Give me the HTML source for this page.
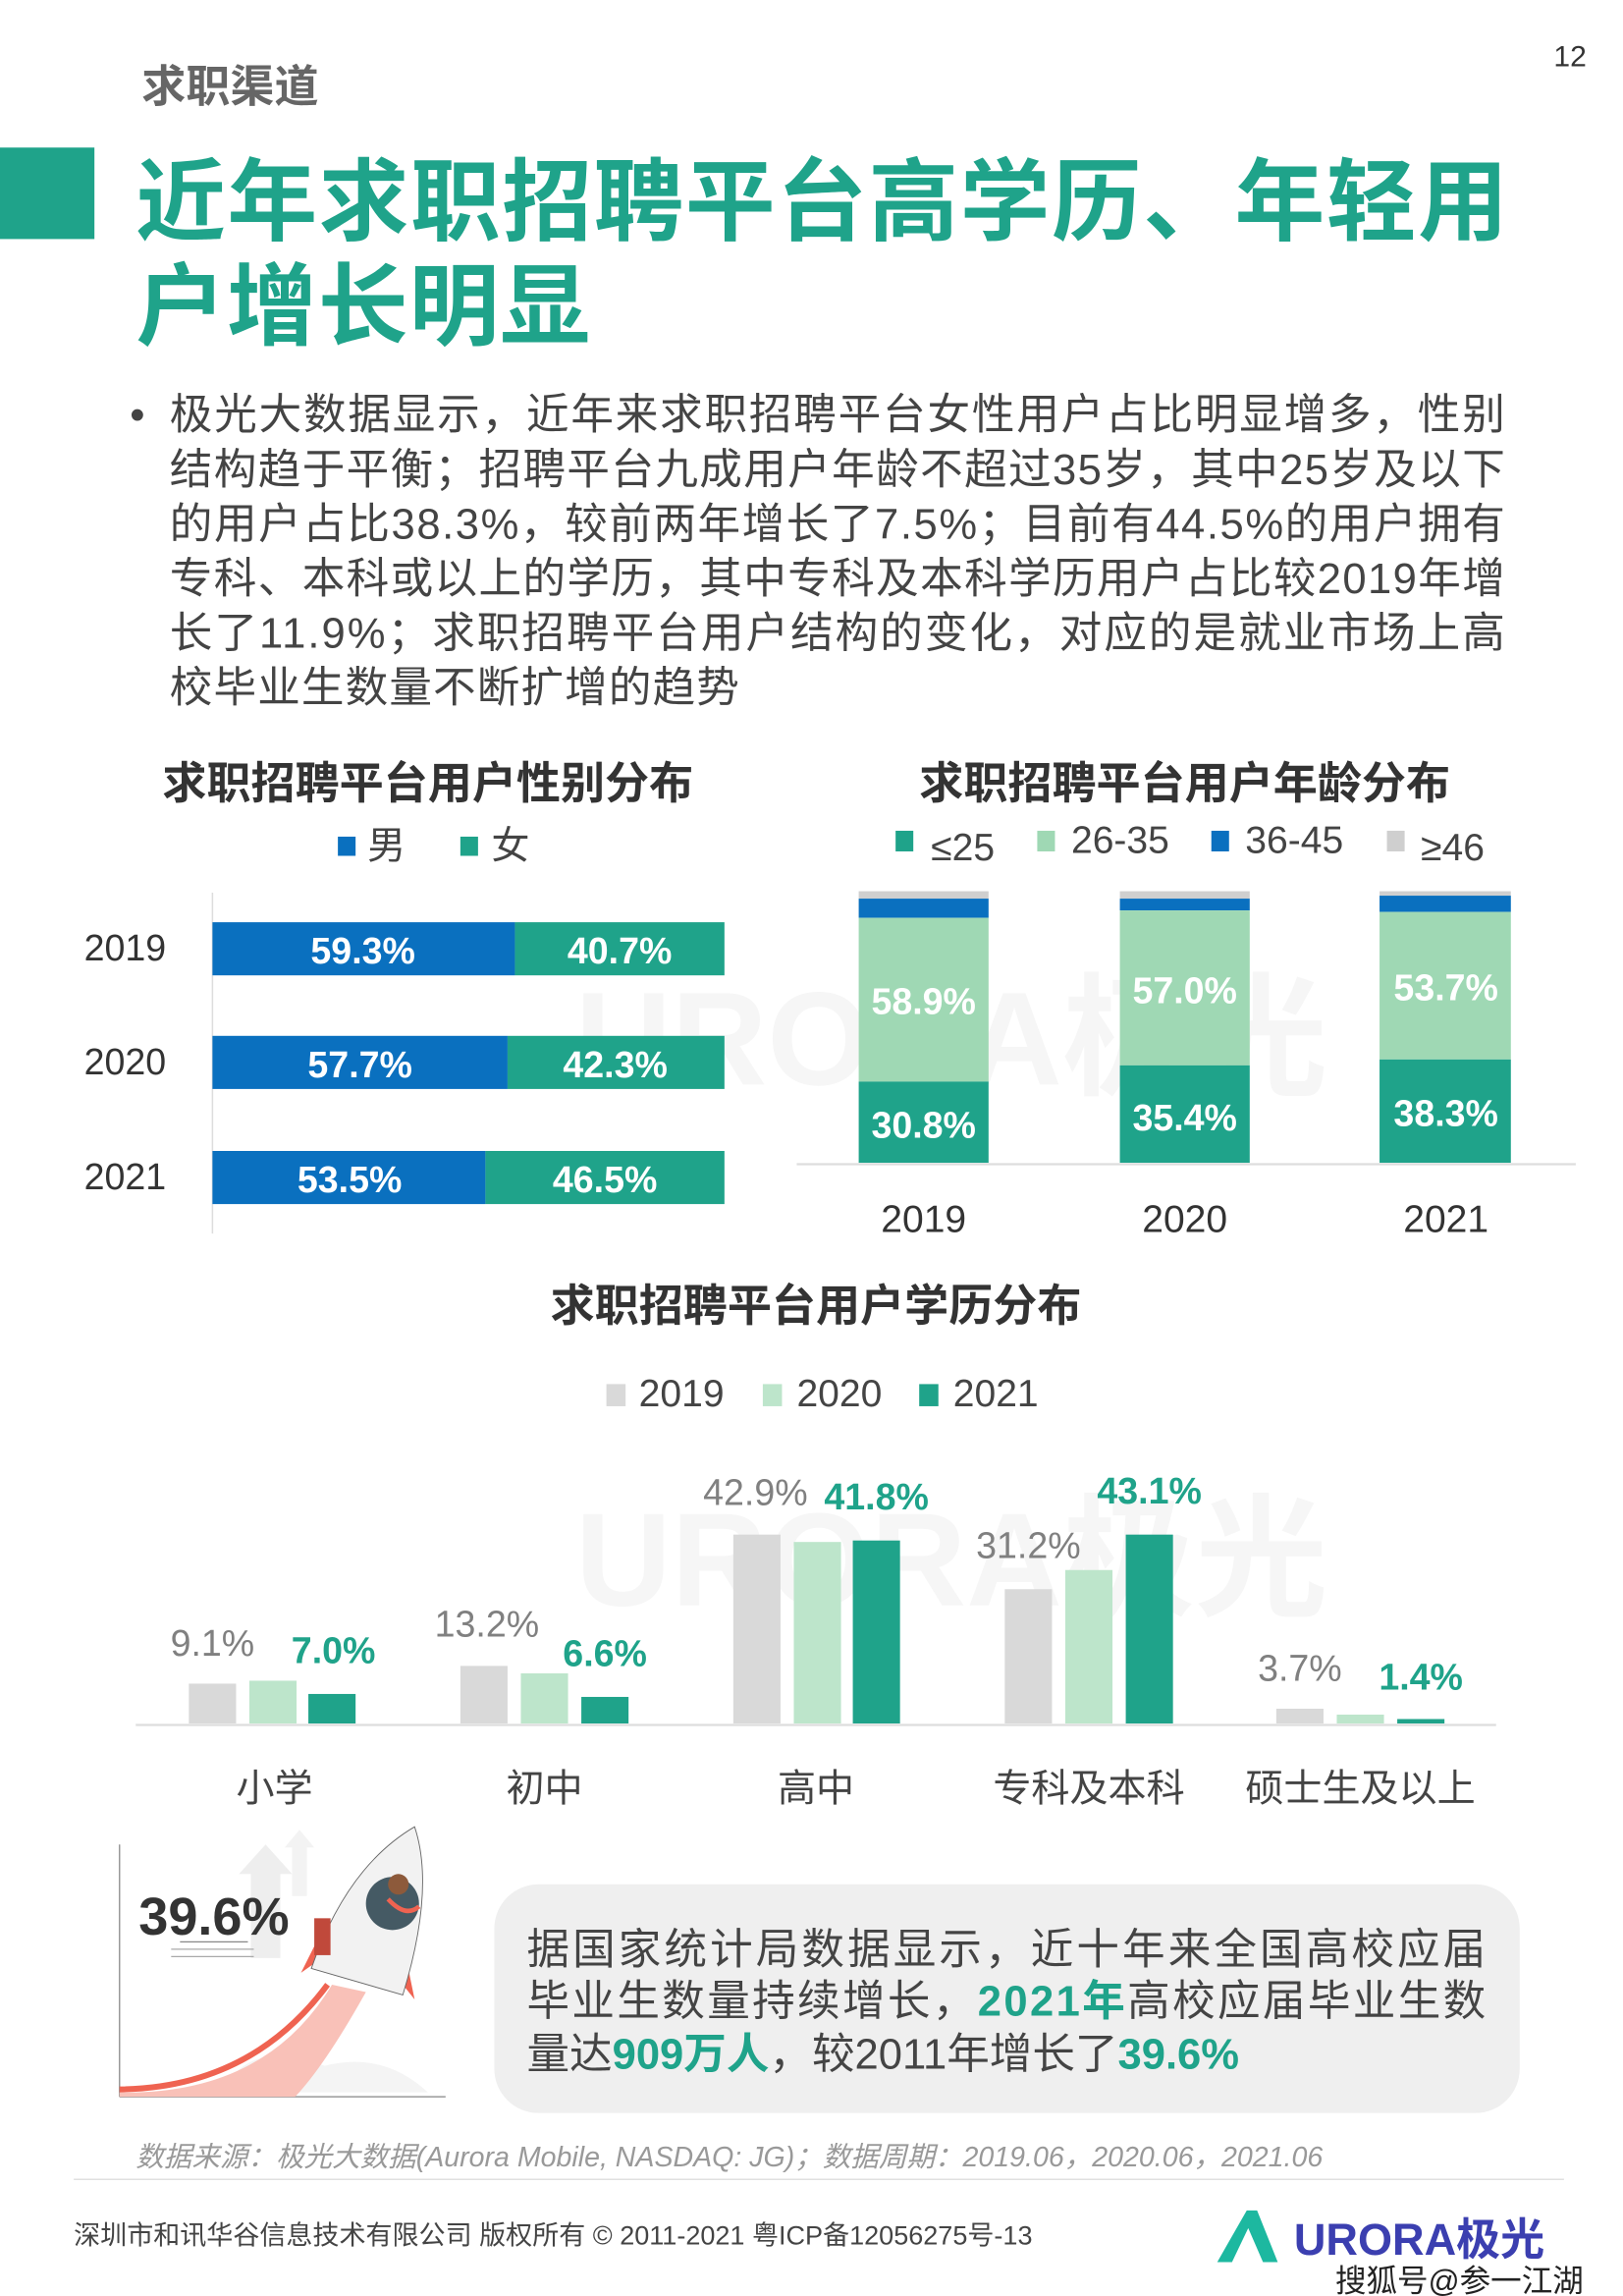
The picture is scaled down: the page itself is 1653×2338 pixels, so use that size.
<!DOCTYPE html>
<html><head><meta charset="utf-8">
<style>
html,body{margin:0;padding:0;background:#fff;}
svg{display:block;}
text{font-family:"Liberation Sans","Noto Sans CJK SC",sans-serif;}
</style></head>
<body>
<svg width="1653" height="2338" viewBox="0 0 1100 1556" preserveAspectRatio="none" xmlns="http://www.w3.org/2000/svg">
<rect width="1100" height="1556" fill="#fff"/>
<text x="1053" y="45" font-size="20" fill="#333">12</text>
<text x="96" y="69" font-size="30" font-weight="bold" fill="#666">求职渠道</text>
<rect x="0" y="100" width="64" height="62" fill="#1fa38a"/>
<text x="92" y="158" font-size="61" font-weight="bold" fill="#1fa38a" textLength="930">近年求职招聘平台高学历、年轻用</text>
<text x="92" y="229" font-size="61" font-weight="bold" fill="#1fa38a" textLength="308">户增长明显</text>
<g font-size="29" fill="#444">
<text x="88" y="291">•</text>
<text x="115" y="291" textLength="905">极光大数据显示，近年来求职招聘平台女性用户占比明显增多，性别</text>
<text x="115" y="328" textLength="905">结构趋于平衡；招聘平台九成用户年龄不超过35岁，其中25岁及以下</text>
<text x="115" y="365" textLength="905">的用户占比38.3%，较前两年增长了7.5%；目前有44.5%的用户拥有</text>
<text x="115" y="402" textLength="905">专科、本科或以上的学历，其中专科及本科学历用户占比较2019年增</text>
<text x="115" y="439" textLength="905">长了11.9%；求职招聘平台用户结构的变化，对应的是就业市场上高</text>
<text x="115" y="476" textLength="386">校毕业生数量不断扩增的趋势</text>
</g>
<!-- watermarks -->
<g fill="#000" opacity="0.03" font-weight="bold" font-size="90">
<text x="390" y="735">URORA极光</text>
<text x="390" y="1088">URORA极光</text>
</g>
<!-- gender chart -->
<text x="290" y="541" font-size="30" font-weight="bold" fill="#333" text-anchor="middle">求职招聘平台用户性别分布</text>
<rect x="229" y="567" width="12" height="13" fill="#0a70bf"/><text x="249" y="582" font-size="26" fill="#444">男</text>
<rect x="312" y="567" width="12" height="13" fill="#1fa38a"/><text x="333" y="582" font-size="26" fill="#444">女</text>
<line x1="144" y1="605" x2="144" y2="836" stroke="#ddd" stroke-width="1"/>
<g font-size="25" fill="#333"><text x="57" y="651">2019</text><text x="57" y="728">2020</text><text x="57" y="806">2021</text></g>
<rect x="144" y="625" width="205" height="36" fill="#0a70bf"/><rect x="349" y="625" width="142" height="36" fill="#1fa38a"/>
<rect x="144" y="702" width="200" height="36" fill="#0a70bf"/><rect x="344" y="702" width="147" height="36" fill="#1fa38a"/>
<rect x="144" y="780" width="185" height="36" fill="#0a70bf"/><rect x="329" y="780" width="162" height="36" fill="#1fa38a"/>
<g font-size="25" font-weight="bold" fill="#fff" text-anchor="middle">
<text x="246" y="653">59.3%</text><text x="420" y="653">40.7%</text>
<text x="244" y="730">57.7%</text><text x="417" y="730">42.3%</text>
<text x="237" y="808">53.5%</text><text x="410" y="808">46.5%</text>
</g>
<!-- age chart -->
<text x="803" y="541" font-size="30" font-weight="bold" fill="#333" text-anchor="middle">求职招聘平台用户年龄分布</text>
<g font-size="26" fill="#444">
<rect x="607" y="563" width="12" height="14" fill="#1fa38a"/><text x="631" y="583">≤25</text>
<rect x="703" y="563" width="12" height="14" fill="#9fd8b4"/><text x="726" y="578">26-35</text>
<rect x="821" y="563" width="12" height="14" fill="#0a70bf"/><text x="844" y="578">36-45</text>
<rect x="940" y="563" width="12" height="14" fill="#cfcfcf"/><text x="963" y="583">≥46</text>
</g>
<line x1="540" y1="789" x2="1068" y2="789" stroke="#ddd" stroke-width="1.5"/>
<rect x="582" y="604" width="88" height="5" fill="#cfcfcf"/><rect x="582" y="609" width="88" height="13" fill="#0a70bf"/><rect x="582" y="622" width="88" height="111" fill="#9fd8b4"/><rect x="582" y="733" width="88" height="55" fill="#1fa38a"/>
<rect x="759" y="604" width="88" height="5" fill="#cfcfcf"/><rect x="759" y="609" width="88" height="8" fill="#0a70bf"/><rect x="759" y="617" width="88" height="105" fill="#9fd8b4"/><rect x="759" y="722" width="88" height="66" fill="#1fa38a"/>
<rect x="935" y="604" width="89" height="3" fill="#cfcfcf"/><rect x="935" y="607" width="89" height="11" fill="#0a70bf"/><rect x="935" y="618" width="89" height="100" fill="#9fd8b4"/><rect x="935" y="718" width="89" height="70" fill="#1fa38a"/>
<g font-size="25" font-weight="bold" fill="#fff" text-anchor="middle">
<text x="626" y="687">58.9%</text><text x="626" y="771">30.8%</text>
<text x="803" y="680">57.0%</text><text x="803" y="766">35.4%</text>
<text x="980" y="678">53.7%</text><text x="980" y="763">38.3%</text>
</g>
<g font-size="26" fill="#333" text-anchor="middle"><text x="626" y="835">2019</text><text x="803" y="835">2020</text><text x="980" y="835">2021</text></g>
<!-- education chart -->
<text x="553" y="895" font-size="30" font-weight="bold" fill="#333" text-anchor="middle">求职招聘平台用户学历分布</text>
<g font-size="26" fill="#444">
<rect x="411" y="938" width="13" height="15" fill="#d9d9d9"/><text x="433" y="953">2019</text>
<rect x="517" y="938" width="13" height="15" fill="#bde5cb"/><text x="540" y="953">2020</text>
<rect x="623" y="938" width="13" height="15" fill="#1fa38a"/><text x="646" y="953">2021</text>
</g>
<g>
<rect x="128" y="1141" width="32" height="27" fill="#d9d9d9"/><rect x="169" y="1139" width="32" height="29" fill="#bde5cb"/><rect x="209" y="1148" width="32" height="20" fill="#1fa38a"/>
<rect x="312" y="1129" width="32" height="39" fill="#d9d9d9"/><rect x="353" y="1134" width="32" height="34" fill="#bde5cb"/><rect x="394" y="1150" width="32" height="18" fill="#1fa38a"/>
<rect x="497" y="1040" width="32" height="128" fill="#d9d9d9"/><rect x="538" y="1045" width="32" height="123" fill="#bde5cb"/><rect x="578" y="1044" width="32" height="124" fill="#1fa38a"/>
<rect x="681" y="1077" width="32" height="91" fill="#d9d9d9"/><rect x="722" y="1064" width="32" height="104" fill="#bde5cb"/><rect x="763" y="1040" width="32" height="128" fill="#1fa38a"/>
<rect x="865" y="1158" width="32" height="10" fill="#d9d9d9"/><rect x="906" y="1162" width="32" height="6" fill="#bde5cb"/><rect x="947" y="1165" width="32" height="3" fill="#1fa38a"/>
</g>
<line x1="92" y1="1169" x2="1014" y2="1169" stroke="#ddd" stroke-width="1.5"/>
<g font-size="25" text-anchor="middle">
<text x="144" y="1122" fill="#808080">9.1%</text><text x="226" y="1127" fill="#1fa38a" font-weight="bold">7.0%</text>
<text x="330" y="1109" fill="#808080">13.2%</text><text x="410" y="1129" fill="#1fa38a" font-weight="bold">6.6%</text>
<text x="512" y="1020" fill="#808080">42.9%</text><text x="594" y="1023" fill="#1fa38a" font-weight="bold">41.8%</text>
<text x="697" y="1056" fill="#808080">31.2%</text><text x="779" y="1019" fill="#1fa38a" font-weight="bold">43.1%</text>
<text x="881" y="1139" fill="#808080">3.7%</text><text x="963" y="1145" fill="#1fa38a" font-weight="bold">1.4%</text>
</g>
<g font-size="26" fill="#444" text-anchor="middle">
<text x="186" y="1221">小学</text><text x="369" y="1221">初中</text><text x="553" y="1221">高中</text><text x="738" y="1221">专科及本科</text><text x="922" y="1221">硕士生及以上</text>
</g>
<!-- rocket illustration -->
<g>
<line x1="81" y1="1250" x2="81" y2="1421" stroke="#999" stroke-width="1"/>
<line x1="81" y1="1421" x2="302" y2="1421" stroke="#999" stroke-width="1"/>
<polygon points="180,1250 198,1270 190,1270 190,1327 170,1327 170,1270 162,1270" fill="#eeeeee"/>
<polygon points="203,1240 213,1252 208,1252 208,1285 198,1285 198,1252 193,1252" fill="#f3f3f3"/>
<path d="M150 1418 Q170 1380 220 1400 Q260 1390 290 1418 Z" fill="#f4f4f4"/>
<path d="M81 1418 Q180 1420 225 1345 L248 1350 Q220 1400 200 1421 L81 1421 Z" fill="#f9c1b8"/>
<path d="M81 1416 Q170 1415 222 1345" stroke="#ef6351" stroke-width="4" fill="none"/>
<path d="M238 1313 L204 1337 L220 1305 Z" fill="#ef6351"/>
<path d="M273 1316 L281 1355 L265 1335 Z" fill="#ef6351"/>
<path d="M281 1238 Q295 1280 273 1352 L211 1334 Q235 1265 281 1238 Z" fill="#f2f2f2" stroke="#666" stroke-width="0.6"/>
<rect x="213" y="1300" width="11" height="25" fill="#c0493b"/>
<circle cx="266" cy="1290" r="18" fill="#455a64"/>
<circle cx="270" cy="1277" r="7" fill="#8d5a3b"/>
<path d="M263 1287 Q275 1300 284 1292" stroke="#ef6351" stroke-width="3" fill="none"/>
<text x="94" y="1311" font-size="36" font-weight="bold" fill="#333">39.6%</text>
<line x1="122" y1="1316" x2="168" y2="1316" stroke="#888" stroke-width="0.8"/>
<line x1="116" y1="1321" x2="172" y2="1321" stroke="#aaa" stroke-width="0.8"/>
<line x1="116" y1="1326" x2="172" y2="1326" stroke="#aaa" stroke-width="0.8"/>
</g>
<rect x="335" y="1277" width="695" height="155" rx="30" fill="#efefef"/>
<g font-size="29" fill="#444">
<text x="357" y="1331" textLength="650">据国家统计局数据显示，近十年来全国高校应届</text>
<text x="357" y="1366" textLength="650">毕业生数量持续增长，<tspan fill="#1fa38a" font-weight="bold">2021年</tspan>高校应届毕业生数</text>
<text x="357" y="1402">量达<tspan fill="#1fa38a" font-weight="bold">909万人</tspan>，较2011年增长了<tspan fill="#1fa38a" font-weight="bold">39.6%</tspan></text>
</g>
<text x="92" y="1468" font-size="19" font-style="italic" fill="#999">数据来源：极光大数据(Aurora Mobile, NASDAQ: JG)；数据周期：2019.06，2020.06，2021.06</text>
<line x1="50" y1="1477" x2="1060" y2="1477" stroke="#e0e0e0" stroke-width="1"/>
<text x="50" y="1521" font-size="18" fill="#444">深圳市和讯华谷信息技术有限公司 版权所有 © 2011-2021 粤ICP备12056275号-13</text>
<path d="M825 1533 L845 1498 L852 1498 L866 1533 L856 1533 L846 1510 L835 1533 Z" fill="#1db8a0"/>
<text x="877" y="1528" font-size="30" font-weight="bold" fill="#3b3fb0">URORA极光</text>
<text x="905" y="1553" font-size="21" fill="#222">搜狐号@参一江湖</text>
</svg>
</body></html>
